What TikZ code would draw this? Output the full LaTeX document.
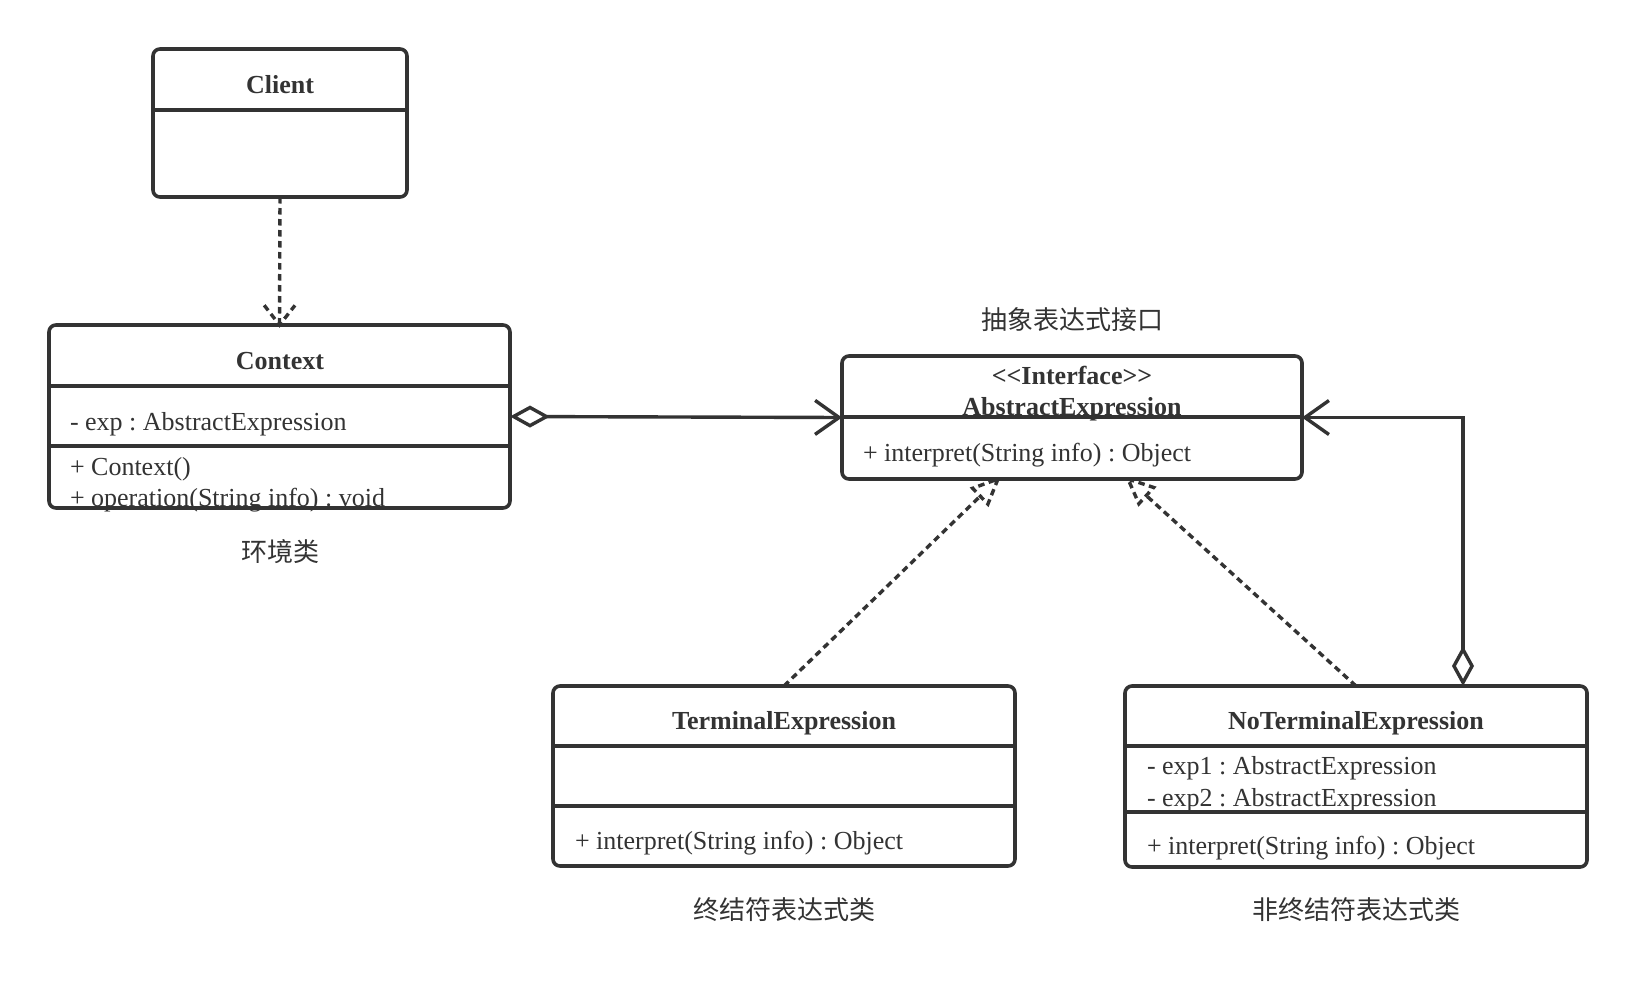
\documentclass[tikz,border=0pt]{standalone}
\usepackage{fontspec}
\setmainfont{Liberation Serif}
\newfontfamily\cjk{Noto Sans CJK SC}
\usetikzlibrary{arrows.meta,calc}
\definecolor{ink}{HTML}{333333}
\frenchspacing
\tikzset{
  umlbox/.style={draw=ink, line width=3.6pt, rounded corners=7pt, inner sep=0pt, outer sep=0pt},
  divider/.style={draw=ink, line width=3.6pt},
  txt/.style={inner sep=0pt, outer sep=0pt, text=ink, font=\fontsize{26}{30}\selectfont\frenchspacing},
  ttl/.style={txt, font=\fontsize{26}{30}\selectfont\bfseries},
  cjklabel/.style={txt, font=\fontsize{26}{30}\selectfont\cjk},
  dotline/.style={draw=ink, line width=3.4pt, dash pattern=on 6.5pt off 4.5pt},
  assoc/.style={draw=ink, line width=3.4pt},
  diam/.tip={Diamond[open, length=40pt, width=22pt, line width=3.4pt]},
  barb/.tip={Straight Barb[length=24pt, width=34pt, line width=3.4pt]}
}
\begin{document}
\begin{tikzpicture}[x=1pt,y=-1pt]
\fill[white] (0,0) rectangle (1635,998);
\useasboundingbox (0,0) rectangle (1635,998);

% ---------- texts ----------
\node[ttl, anchor=base] (tClient) at (280,93) {Client};

\node[ttl, anchor=base] (tContext) at (280,369) {Context};
\node[txt, anchor=base west] (cAttr) at (70,430) {- exp : AbstractExpression};
\node[txt, anchor=base west] (cOp1) at (70,475) {+ Context()};
\node[txt, anchor=base west] (cOp2) at (70,506) {+ operation(String info) : void};
\node[cjklabel] (lContext) at (280,552) {环境类};

\node[cjklabel] (lAbs) at (1072,320) {抽象表达式接口};
\node[ttl, anchor=base] (tStereo) at (1072,384) {<\kern0pt<Interface>\kern0pt>};
\node[ttl, anchor=base] (tAbs) at (1072,415) {AbstractExpression};
\node[txt, anchor=base west] (aOp) at (863,461) {+ interpret(String info) : Object};

\node[ttl, anchor=base] (tTerm) at (784,729) {TerminalExpression};
\node[txt, anchor=base west] (tOp) at (575,849) {+ interpret(String info) : Object};
\node[cjklabel] (lTerm) at (784,910) {终结符表达式类};

\node[ttl, anchor=base] (tNt) at (1356,729) {NoTerminalExpression};
\node[txt, anchor=base west] (nAttr1) at (1147,774) {- exp1 : AbstractExpression};
\node[txt, anchor=base west] (nAttr2) at (1147,806) {- exp2 : AbstractExpression};
\node[txt, anchor=base west] (nOp) at (1147,854) {+ interpret(String info) : Object};
\node[cjklabel] (lNt) at (1356,910) {非终结符表达式类};

% ---------- boxes ----------
\node[umlbox, minimum width=254pt, minimum height=148pt] (client) at (280,123) {};
\draw[divider] (client.west |- 0,110) -- (client.east |- 0,110);

\node[umlbox, minimum width=461pt, minimum height=183pt] (context) at (279.5,416.5) {};
\draw[divider] (context.west |- 0,386) -- (context.east |- 0,386);
\draw[divider] (context.west |- 0,446) -- (context.east |- 0,446);

\node[umlbox, minimum width=460pt, minimum height=123pt] (abs) at (1072,417.5) {};
\draw[divider] (abs.west |- 0,417) -- (abs.east |- 0,417);

\node[umlbox, minimum width=462pt, minimum height=180pt] (term) at (784,776) {};
\draw[divider] (term.west |- 0,746) -- (term.east |- 0,746);
\draw[divider] (term.west |- 0,806) -- (term.east |- 0,806);

\node[umlbox, minimum width=462pt, minimum height=181pt] (nt) at (1356,776.5) {};
\draw[divider] (nt.west |- 0,746) -- (nt.east |- 0,746);
\draw[divider] (nt.west |- 0,812) -- (nt.east |- 0,812);

% ---------- connectors ----------
% dependency Client -> Context
\draw[dotline] (client.south) -- (context.north);
\draw[dotline] ($(context.north)!25pt!38:(client.south)$) -- (context.north) -- ($(context.north)!25pt!-38:(client.south)$);

% aggregation Context -> AbstractExpression
\draw[assoc, {diam}-{barb}] (context.east) -- (abs.west);

% aggregation NoTerminal -> AbstractExpression
\coordinate (ntAgg) at ($(nt.north west)+(338,0)$);
\draw[assoc, {diam}-{barb}] (ntAgg) |- (abs.east);

% realizations
\coordinate (absL) at ($(abs.south west)+(156,0)$);
\coordinate (absR) at ($(abs.south west)+(286,0)$);
\draw[dotline] (term.north) -- ($(absL)!24pt!(term.north)$);
\draw[dotline] (absL) -- ($(absL)!27pt!24:(term.north)$) -- ($(absL)!27pt!-24:(term.north)$) -- cycle;
\draw[dotline] (nt.north) -- ($(absR)!24pt!(nt.north)$);
\draw[dotline] (absR) -- ($(absR)!27pt!24:(nt.north)$) -- ($(absR)!27pt!-24:(nt.north)$) -- cycle;
\end{tikzpicture}
\end{document}
